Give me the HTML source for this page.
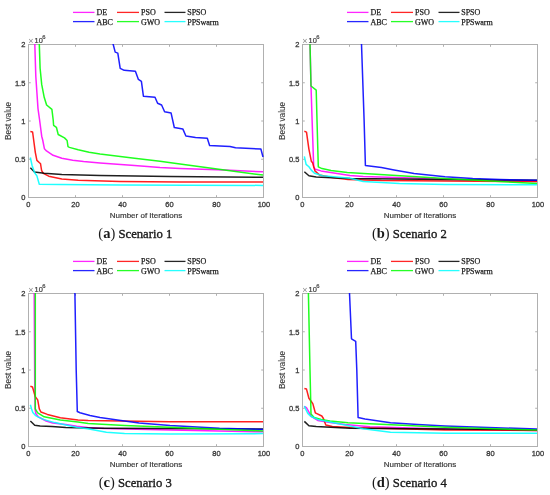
<!DOCTYPE html>
<html><head><meta charset="utf-8"><title>Convergence curves</title>
<style>
html,body{margin:0;padding:0;background:#fff;}
body{width:550px;height:495px;overflow:hidden;}
svg{display:block;will-change:transform;}
text{font-family:"Liberation Sans",sans-serif;fill:#3a3a3a;stroke:#3a3a3a;stroke-width:0.3px;}
.tk{font-size:7.5px;}
.lb{font-size:8px;stroke-width:0.2px;}
.lg{font-family:"Liberation Serif",serif;font-size:8px;fill:#222;stroke:#222;stroke-width:0.25px;}
.cp{font-family:"Liberation Serif",serif;font-size:12.7px;fill:#1a1a1a;stroke:#1a1a1a;stroke-width:0.35px;}
</style></head>
<body>
<svg width="550" height="495" viewBox="0 0 550 495">
<rect width="550" height="495" fill="#fff"/>
<clipPath id="ca"><rect x="28" y="44" width="236" height="154"/></clipPath>
<line x1="73" y1="12.4" x2="94.5" y2="12.4" stroke="#ff00ff" stroke-width="1.3" stroke-opacity="0.85"/>
<text x="96.5" y="14.9" class="lg">DE</text>
<line x1="117" y1="12.4" x2="139" y2="12.4" stroke="#ff0000" stroke-width="1.3" stroke-opacity="0.85"/>
<text x="141" y="14.9" class="lg">PSO</text>
<line x1="164.5" y1="12.4" x2="185.5" y2="12.4" stroke="#000000" stroke-width="1.3" stroke-opacity="0.85"/>
<text x="187.2" y="14.9" class="lg">SPSO</text>
<line x1="73" y1="21.6" x2="94.5" y2="21.6" stroke="#0000ff" stroke-width="1.3" stroke-opacity="0.85"/>
<text x="96.5" y="24.8" class="lg">ABC</text>
<line x1="117" y1="21.6" x2="139" y2="21.6" stroke="#00ff00" stroke-width="1.3" stroke-opacity="0.85"/>
<text x="141" y="24.8" class="lg">GWO</text>
<line x1="164.5" y1="21.6" x2="185.5" y2="21.6" stroke="#00ffff" stroke-width="1.3" stroke-opacity="0.85"/>
<text x="187.2" y="24.8" class="lg">PPSwarm</text>
<rect x="28.5" y="44.5" width="235" height="153" fill="none" stroke="#b0b0b0" stroke-width="1"/>
<path d="M28.5 197.5v-2.3M28.5 44.5v2.3M75.5 197.5v-2.3M75.5 44.5v2.3M122.5 197.5v-2.3M122.5 44.5v2.3M169.5 197.5v-2.3M169.5 44.5v2.3M216.5 197.5v-2.3M216.5 44.5v2.3M263.5 197.5v-2.3M263.5 44.5v2.3M28.5 44.5h2.3M263.5 44.5h-2.3M28.5 82.75h2.3M263.5 82.75h-2.3M28.5 121h2.3M263.5 121h-2.3M28.5 159.25h2.3M263.5 159.25h-2.3M28.5 197.5h2.3M263.5 197.5h-2.3" stroke="#b0b0b0" stroke-width="1" fill="none"/>
<g clip-path="url(#ca)" fill="none" stroke-opacity="0.88" stroke-width="1.5" stroke-linejoin="round" stroke-linecap="butt">
<polyline points="34.6,38 34.8,44 35.8,76.3 36.9,92.5 38,108.6 39.6,120 41.7,136.2 42.7,140 44.4,148.7 46.5,150.9 53.1,155.3 61.8,158.3 72.7,160.2 83.6,161.6 100,163.1 134.5,165.5 160,167.6 180,168.5 224.5,170 263,171.8" stroke="#ff00ff"/>
<polyline points="30.35,131.6 32.6,132 35.3,152.3 36.9,160.4 39.5,162.8 40.5,163.5 41.6,170.5 43.3,173.3 48.7,176.2 61.8,178.9 78.2,180.3 120,181.5 180,182.1 263,182.1" stroke="#ff0000"/>
<polyline points="30.35,167.7 34.5,172 44.2,173.2 61.8,174.4 100,175.4 170,176.4 263,177.3" stroke="#000000"/>
<polyline points="112.5,40 113.1,44 115.2,52.1 117.8,53.1 120.2,68.3 124.2,70.3 135.4,71.3 138.4,79.4 141.4,81.4 143.4,96.2 155,97.2 157.6,103.2 161.6,105 164.6,111.7 171.1,113.1 174.3,127.5 182.8,128.9 185.9,136 195.5,137.6 207.3,138.2 209.6,145.5 230,146.4 235.5,147.8 260.9,149 263,157" stroke="#0000ff"/>
<polyline points="39.2,38 39.3,44 40.1,68.2 41.7,84.4 44.2,97.3 46.6,105 51.9,109.4 53.2,120 53.6,125.3 56.4,127.3 58.2,134.5 64.5,137.9 67.1,140.5 68,146.7 69.4,147.4 78.2,149.8 89.1,152.2 100,154 134.5,158.2 160,161.3 180,164 224.5,170 263,175.1" stroke="#00ff00"/>
<polyline points="30.35,157.5 32,165.2 34.5,172.5 36.9,175.9 39.3,184.3 60,184.4 120,184.9 263,185.4" stroke="#00ffff"/>
</g>
<text x="28.4" y="206.9" class="tk" text-anchor="middle">0</text>
<text x="75.4" y="206.9" class="tk" text-anchor="middle">20</text>
<text x="122.4" y="206.9" class="tk" text-anchor="middle">40</text>
<text x="169.4" y="206.9" class="tk" text-anchor="middle">60</text>
<text x="216.4" y="206.9" class="tk" text-anchor="middle">80</text>
<text x="263.9" y="206.9" class="tk" text-anchor="middle">100</text>
<text x="25.4" y="47.3" class="tk" text-anchor="end">2</text>
<text x="25.4" y="85.55" class="tk" text-anchor="end">1.5</text>
<text x="25.4" y="123.8" class="tk" text-anchor="end">1</text>
<text x="25.4" y="162.05" class="tk" text-anchor="end">0.5</text>
<text x="25.4" y="200.3" class="tk" text-anchor="end">0</text>
<text x="28.3" y="43.6" class="tk" style="fill:#8c8c8c;stroke:none;font-size:9px">×</text>
<text x="34.6" y="42.8" class="tk" style="font-size:7.4px;stroke-width:0.2px">10</text>
<text x="42.2" y="39.0" class="tk" style="font-size:5.9px;stroke-width:0.15px">6</text>
<text x="146" y="218.2" class="lb" text-anchor="middle">Number of Iterations</text>
<text transform="translate(10.65 121) rotate(-90)" class="lb" text-anchor="middle" style="font-size:8.15px;stroke-width:0.12px">Best value</text>
<text x="135.35" y="238" class="cp" text-anchor="middle"><tspan style="font-size:14.5px;stroke:none">(<tspan font-weight="bold">a</tspan>)</tspan> Scenario 1</text>
<clipPath id="cb"><rect x="302" y="44" width="236" height="154"/></clipPath>
<line x1="347" y1="12.4" x2="368.5" y2="12.4" stroke="#ff00ff" stroke-width="1.3" stroke-opacity="0.85"/>
<text x="370.5" y="14.9" class="lg">DE</text>
<line x1="391" y1="12.4" x2="413" y2="12.4" stroke="#ff0000" stroke-width="1.3" stroke-opacity="0.85"/>
<text x="415" y="14.9" class="lg">PSO</text>
<line x1="438.5" y1="12.4" x2="459.5" y2="12.4" stroke="#000000" stroke-width="1.3" stroke-opacity="0.85"/>
<text x="461.2" y="14.9" class="lg">SPSO</text>
<line x1="347" y1="21.6" x2="368.5" y2="21.6" stroke="#0000ff" stroke-width="1.3" stroke-opacity="0.85"/>
<text x="370.5" y="24.8" class="lg">ABC</text>
<line x1="391" y1="21.6" x2="413" y2="21.6" stroke="#00ff00" stroke-width="1.3" stroke-opacity="0.85"/>
<text x="415" y="24.8" class="lg">GWO</text>
<line x1="438.5" y1="21.6" x2="459.5" y2="21.6" stroke="#00ffff" stroke-width="1.3" stroke-opacity="0.85"/>
<text x="461.2" y="24.8" class="lg">PPSwarm</text>
<rect x="302.5" y="44.5" width="235" height="153" fill="none" stroke="#b0b0b0" stroke-width="1"/>
<path d="M302.5 197.5v-2.3M302.5 44.5v2.3M349.5 197.5v-2.3M349.5 44.5v2.3M396.5 197.5v-2.3M396.5 44.5v2.3M443.5 197.5v-2.3M443.5 44.5v2.3M490.5 197.5v-2.3M490.5 44.5v2.3M537.5 197.5v-2.3M537.5 44.5v2.3M302.5 44.5h2.3M537.5 44.5h-2.3M302.5 82.75h2.3M537.5 82.75h-2.3M302.5 121h2.3M537.5 121h-2.3M302.5 159.25h2.3M537.5 159.25h-2.3M302.5 197.5h2.3M537.5 197.5h-2.3" stroke="#b0b0b0" stroke-width="1" fill="none"/>
<g clip-path="url(#cb)" fill="none" stroke-opacity="0.88" stroke-width="1.5" stroke-linejoin="round" stroke-linecap="butt">
<polyline points="310,38 310,44 311,86 312.1,120 313.7,166.8 315.3,169.3 321,170.9 350,175.4 363.2,176.4 445,179.1 537,181.6" stroke="#ff00ff"/>
<polyline points="304.35,131.3 306.5,132.1 308.9,149.1 311.3,161.2 312.6,162.8 314.9,170.9 319.4,174.9 332.3,177.4 348,179.5 381.4,180.5 445,180.9 537,181.6" stroke="#ff0000"/>
<polyline points="304.35,171.7 308.9,175.7 316.2,176.9 332.3,177.8 350,178.5 445,179.6 537,180.3" stroke="#000000"/>
<polyline points="361.3,38 361.5,44 364.1,120 365.4,165.5 381.4,167.6 394.1,170 414.1,173.6 445,176.7 472.7,178.5 500,179.5 537,180.3" stroke="#0000ff"/>
<polyline points="310,38 310,44 311,86 316.2,90.1 317,120 318.3,166.8 322,168.6 331,170.6 347.3,172.6 380,174.4 445,178.5 472.7,180 500,181.5 537,183.4" stroke="#00ff00"/>
<polyline points="304.35,156.3 306.1,164.4 308.9,166.8 311.3,170.1 314.5,173.3 322.6,175.7 350,178.2 363.2,181.5 399.5,183.6 445,184.4 537,184.8" stroke="#00ffff"/>
</g>
<text x="302.4" y="206.9" class="tk" text-anchor="middle">0</text>
<text x="349.4" y="206.9" class="tk" text-anchor="middle">20</text>
<text x="396.4" y="206.9" class="tk" text-anchor="middle">40</text>
<text x="443.4" y="206.9" class="tk" text-anchor="middle">60</text>
<text x="490.4" y="206.9" class="tk" text-anchor="middle">80</text>
<text x="537.9" y="206.9" class="tk" text-anchor="middle">100</text>
<text x="299.4" y="47.3" class="tk" text-anchor="end">2</text>
<text x="299.4" y="85.55" class="tk" text-anchor="end">1.5</text>
<text x="299.4" y="123.8" class="tk" text-anchor="end">1</text>
<text x="299.4" y="162.05" class="tk" text-anchor="end">0.5</text>
<text x="299.4" y="200.3" class="tk" text-anchor="end">0</text>
<text x="302.3" y="43.6" class="tk" style="fill:#8c8c8c;stroke:none;font-size:9px">×</text>
<text x="308.6" y="42.8" class="tk" style="font-size:7.4px;stroke-width:0.2px">10</text>
<text x="316.2" y="39.0" class="tk" style="font-size:5.9px;stroke-width:0.15px">6</text>
<text x="420" y="218.2" class="lb" text-anchor="middle">Number of Iterations</text>
<text transform="translate(284.65 121) rotate(-90)" class="lb" text-anchor="middle" style="font-size:8.15px;stroke-width:0.12px">Best value</text>
<text x="409.35" y="238" class="cp" text-anchor="middle"><tspan style="font-size:14.5px;stroke:none">(<tspan font-weight="bold">b</tspan>)</tspan> Scenario 2</text>
<clipPath id="cc"><rect x="28" y="293" width="236" height="154"/></clipPath>
<line x1="73" y1="261.4" x2="94.5" y2="261.4" stroke="#ff00ff" stroke-width="1.3" stroke-opacity="0.85"/>
<text x="96.5" y="263.9" class="lg">DE</text>
<line x1="117" y1="261.4" x2="139" y2="261.4" stroke="#ff0000" stroke-width="1.3" stroke-opacity="0.85"/>
<text x="141" y="263.9" class="lg">PSO</text>
<line x1="164.5" y1="261.4" x2="185.5" y2="261.4" stroke="#000000" stroke-width="1.3" stroke-opacity="0.85"/>
<text x="187.2" y="263.9" class="lg">SPSO</text>
<line x1="73" y1="270.6" x2="94.5" y2="270.6" stroke="#0000ff" stroke-width="1.3" stroke-opacity="0.85"/>
<text x="96.5" y="273.8" class="lg">ABC</text>
<line x1="117" y1="270.6" x2="139" y2="270.6" stroke="#00ff00" stroke-width="1.3" stroke-opacity="0.85"/>
<text x="141" y="273.8" class="lg">GWO</text>
<line x1="164.5" y1="270.6" x2="185.5" y2="270.6" stroke="#00ffff" stroke-width="1.3" stroke-opacity="0.85"/>
<text x="187.2" y="273.8" class="lg">PPSwarm</text>
<rect x="28.5" y="293.5" width="235" height="153" fill="none" stroke="#b0b0b0" stroke-width="1"/>
<path d="M28.5 446.5v-2.3M28.5 293.5v2.3M75.5 446.5v-2.3M75.5 293.5v2.3M122.5 446.5v-2.3M122.5 293.5v2.3M169.5 446.5v-2.3M169.5 293.5v2.3M216.5 446.5v-2.3M216.5 293.5v2.3M263.5 446.5v-2.3M263.5 293.5v2.3M28.5 293.5h2.3M263.5 293.5h-2.3M28.5 331.75h2.3M263.5 331.75h-2.3M28.5 370h2.3M263.5 370h-2.3M28.5 408.25h2.3M263.5 408.25h-2.3M28.5 446.5h2.3M263.5 446.5h-2.3" stroke="#b0b0b0" stroke-width="1" fill="none"/>
<g clip-path="url(#cc)" fill="none" stroke-opacity="0.88" stroke-width="1.5" stroke-linejoin="round" stroke-linecap="butt">
<polyline points="33.8,287 34.2,293 34.7,380 35.1,409.5 35.9,413.8 38.3,416.8 46.2,421 52.7,423 65.8,424.6 76.7,426.3 87.6,427.4 104,428.4 170,430 263,431.8" stroke="#ff00ff"/>
<polyline points="30.35,386.2 32.5,387 35.3,396.7 37.7,399.9 39.3,408.8 40.9,412 47.4,414.4 60.3,417.7 78,420.1 88.2,420.5 170,421.8 263,421.8" stroke="#ff0000"/>
<polyline points="30.35,421 32.2,422.8 34.7,425.3 40.1,426 52,426.5 65.8,427.4 87.6,427.9 104,428.2 170,428.4 263,429.1" stroke="#000000"/>
<polyline points="74.8,287 74.9,293 76.2,370 77.3,411.5 80,412.7 90,415.5 100,417.6 120.9,420.5 139.1,423.1 170,425.5 219.5,428.2 263,429.5" stroke="#0000ff"/>
<polyline points="35.2,287 35.3,293 35.3,408.8 37.7,412.8 44.2,416.8 60.3,420.1 78,422 88.2,423.6 124.5,425.5 170,427.3 263,430.9" stroke="#00ff00"/>
<polyline points="30.35,404.7 31.6,408.9 32.8,412.5 35.3,415.3 38.3,417.1 44,419.6 54.9,422.6 65.8,425 76.7,427.2 87.6,428.8 106.4,432.3 124.5,433.4 170,434 263,433.6" stroke="#00ffff"/>
</g>
<text x="28.4" y="455.9" class="tk" text-anchor="middle">0</text>
<text x="75.4" y="455.9" class="tk" text-anchor="middle">20</text>
<text x="122.4" y="455.9" class="tk" text-anchor="middle">40</text>
<text x="169.4" y="455.9" class="tk" text-anchor="middle">60</text>
<text x="216.4" y="455.9" class="tk" text-anchor="middle">80</text>
<text x="263.9" y="455.9" class="tk" text-anchor="middle">100</text>
<text x="25.4" y="296.3" class="tk" text-anchor="end">2</text>
<text x="25.4" y="334.55" class="tk" text-anchor="end">1.5</text>
<text x="25.4" y="372.8" class="tk" text-anchor="end">1</text>
<text x="25.4" y="411.05" class="tk" text-anchor="end">0.5</text>
<text x="25.4" y="449.3" class="tk" text-anchor="end">0</text>
<text x="28.3" y="292.6" class="tk" style="fill:#8c8c8c;stroke:none;font-size:9px">×</text>
<text x="34.6" y="291.8" class="tk" style="font-size:7.4px;stroke-width:0.2px">10</text>
<text x="42.2" y="288.0" class="tk" style="font-size:5.9px;stroke-width:0.15px">6</text>
<text x="146" y="467.2" class="lb" text-anchor="middle">Number of Iterations</text>
<text transform="translate(10.65 370) rotate(-90)" class="lb" text-anchor="middle" style="font-size:8.15px;stroke-width:0.12px">Best value</text>
<text x="135.35" y="487" class="cp" text-anchor="middle"><tspan style="font-size:14.5px;stroke:none">(<tspan font-weight="bold">c</tspan>)</tspan> Scenario 3</text>
<clipPath id="cd"><rect x="302" y="293" width="236" height="154"/></clipPath>
<line x1="347" y1="261.4" x2="368.5" y2="261.4" stroke="#ff00ff" stroke-width="1.3" stroke-opacity="0.85"/>
<text x="370.5" y="263.9" class="lg">DE</text>
<line x1="391" y1="261.4" x2="413" y2="261.4" stroke="#ff0000" stroke-width="1.3" stroke-opacity="0.85"/>
<text x="415" y="263.9" class="lg">PSO</text>
<line x1="438.5" y1="261.4" x2="459.5" y2="261.4" stroke="#000000" stroke-width="1.3" stroke-opacity="0.85"/>
<text x="461.2" y="263.9" class="lg">SPSO</text>
<line x1="347" y1="270.6" x2="368.5" y2="270.6" stroke="#0000ff" stroke-width="1.3" stroke-opacity="0.85"/>
<text x="370.5" y="273.8" class="lg">ABC</text>
<line x1="391" y1="270.6" x2="413" y2="270.6" stroke="#00ff00" stroke-width="1.3" stroke-opacity="0.85"/>
<text x="415" y="273.8" class="lg">GWO</text>
<line x1="438.5" y1="270.6" x2="459.5" y2="270.6" stroke="#00ffff" stroke-width="1.3" stroke-opacity="0.85"/>
<text x="461.2" y="273.8" class="lg">PPSwarm</text>
<rect x="302.5" y="293.5" width="235" height="153" fill="none" stroke="#b0b0b0" stroke-width="1"/>
<path d="M302.5 446.5v-2.3M302.5 293.5v2.3M349.5 446.5v-2.3M349.5 293.5v2.3M396.5 446.5v-2.3M396.5 293.5v2.3M443.5 446.5v-2.3M443.5 293.5v2.3M490.5 446.5v-2.3M490.5 293.5v2.3M537.5 446.5v-2.3M537.5 293.5v2.3M302.5 293.5h2.3M537.5 293.5h-2.3M302.5 331.75h2.3M537.5 331.75h-2.3M302.5 370h2.3M537.5 370h-2.3M302.5 408.25h2.3M537.5 408.25h-2.3M302.5 446.5h2.3M537.5 446.5h-2.3" stroke="#b0b0b0" stroke-width="1" fill="none"/>
<g clip-path="url(#cd)" fill="none" stroke-opacity="0.88" stroke-width="1.5" stroke-linejoin="round" stroke-linecap="butt">
<polyline points="304.35,406.3 306.4,407.6 308.4,411.2 311.2,416.4 317.7,420.4 330,422.6 345,424.6 370,426.8 445,429 537,430.4" stroke="#ff00ff"/>
<polyline points="304.35,388.6 306.5,389.1 308.9,398.3 311.3,401.5 312.9,403.9 315.3,412.8 321.8,416 323.4,418.5 325.8,424.9 332.3,426.5 350,427.4 445,430 537,430.4" stroke="#ff0000"/>
<polyline points="304.35,421.4 308.9,425.7 316.2,426.5 350,428.2 445,428.9 537,429.7" stroke="#000000"/>
<polyline points="349.3,287 349.5,293 351.5,338.8 355.7,341.4 356.8,370 358.1,417.6 365,419.1 390.5,422.7 417.7,424.5 445,426 537,429.1" stroke="#0000ff"/>
<polyline points="308.3,287 308.4,293 310,370 311,414.1 314.2,417.6 321.2,419.4 330,420.9 348,422.7 370,423.8 445,427.3 537,430" stroke="#00ff00"/>
<polyline points="304.35,406 305.7,409.2 307.8,413.4 310.6,416.2 317.7,419.4 330,421.9 345,425 363.2,428.8 390.5,432.2 445,433.3 537,433.3" stroke="#00ffff"/>
</g>
<text x="302.4" y="455.9" class="tk" text-anchor="middle">0</text>
<text x="349.4" y="455.9" class="tk" text-anchor="middle">20</text>
<text x="396.4" y="455.9" class="tk" text-anchor="middle">40</text>
<text x="443.4" y="455.9" class="tk" text-anchor="middle">60</text>
<text x="490.4" y="455.9" class="tk" text-anchor="middle">80</text>
<text x="537.9" y="455.9" class="tk" text-anchor="middle">100</text>
<text x="299.4" y="296.3" class="tk" text-anchor="end">2</text>
<text x="299.4" y="334.55" class="tk" text-anchor="end">1.5</text>
<text x="299.4" y="372.8" class="tk" text-anchor="end">1</text>
<text x="299.4" y="411.05" class="tk" text-anchor="end">0.5</text>
<text x="299.4" y="449.3" class="tk" text-anchor="end">0</text>
<text x="302.3" y="292.6" class="tk" style="fill:#8c8c8c;stroke:none;font-size:9px">×</text>
<text x="308.6" y="291.8" class="tk" style="font-size:7.4px;stroke-width:0.2px">10</text>
<text x="316.2" y="288.0" class="tk" style="font-size:5.9px;stroke-width:0.15px">6</text>
<text x="420" y="467.2" class="lb" text-anchor="middle">Number of Iterations</text>
<text transform="translate(284.65 370) rotate(-90)" class="lb" text-anchor="middle" style="font-size:8.15px;stroke-width:0.12px">Best value</text>
<text x="409.35" y="487" class="cp" text-anchor="middle"><tspan style="font-size:14.5px;stroke:none">(<tspan font-weight="bold">d</tspan>)</tspan> Scenario 4</text>
</svg>
</body></html>
